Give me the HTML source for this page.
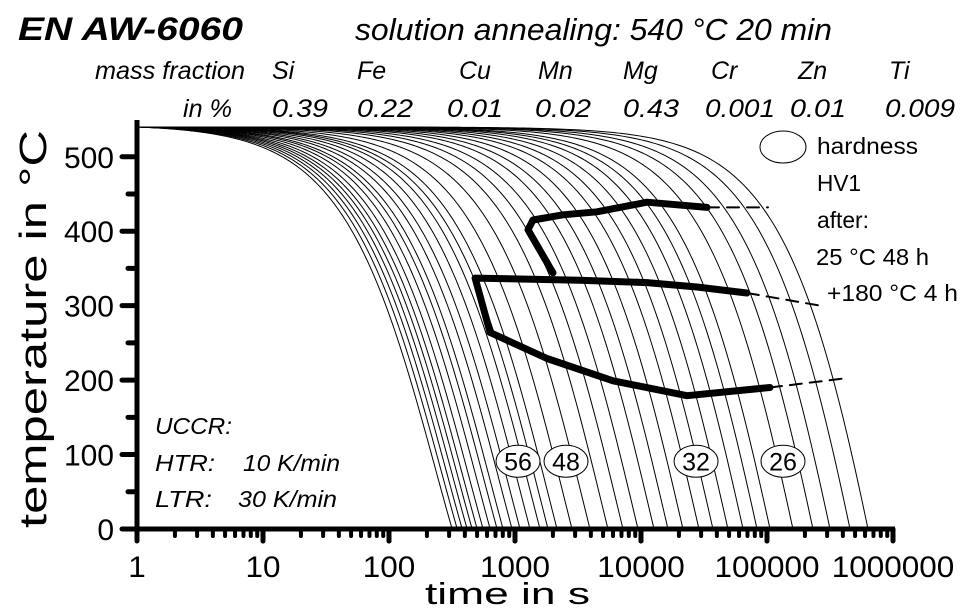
<!DOCTYPE html>
<html><head><meta charset="utf-8">
<style>
html,body{margin:0;padding:0;background:#fff;}
svg{display:block;}
text{font-family:"Liberation Sans",sans-serif;fill:#000;}
.it{font-style:italic;}
</style></head>
<body>
<svg id="chart" width="964" height="611" viewBox="0 0 964 611">
  <g>
    <text x="18" y="40" font-size="32" font-weight="bold" class="it" textLength="225" lengthAdjust="spacingAndGlyphs">EN AW-6060</text>
    <text x="355" y="40" font-size="31" class="it" textLength="477" lengthAdjust="spacingAndGlyphs">solution annealing: 540 °C 20 min</text>
    <text x="95" y="79" font-size="25" class="it" textLength="150" lengthAdjust="spacingAndGlyphs">mass fraction</text>
    <text x="183" y="117" font-size="25" class="it" textLength="49" lengthAdjust="spacingAndGlyphs">in %</text>
  </g>
  <g id="comp"></g>
  <g id="curves"></g>
  <g id="thick"></g>
  <g id="axes"></g>
  <g id="marks"></g>
  <g>
    <ellipse cx="783" cy="147" rx="23" ry="16" fill="#fff" stroke="#000" stroke-width="1"/>
    <text x="817" y="154" font-size="23" textLength="101" lengthAdjust="spacingAndGlyphs">hardness</text>
    <text x="817" y="191" font-size="23" textLength="44" lengthAdjust="spacingAndGlyphs">HV1</text>
    <text x="817" y="228" font-size="23" textLength="52" lengthAdjust="spacingAndGlyphs">after:</text>
    <text x="816" y="265" font-size="23" textLength="113" lengthAdjust="spacingAndGlyphs">25 °C 48 h</text>
    <text x="827" y="301" font-size="23" textLength="131" lengthAdjust="spacingAndGlyphs">+180 °C 4 h</text>
  </g>
  <g>
    <text x="155" y="434" font-size="23" class="it" textLength="77" lengthAdjust="spacingAndGlyphs">UCCR:</text>
    <text x="155" y="471" font-size="23" class="it" textLength="60" lengthAdjust="spacingAndGlyphs">HTR:</text>
    <text x="243" y="471" font-size="23" class="it" textLength="97" lengthAdjust="spacingAndGlyphs">10 K/min</text>
    <text x="155" y="507" font-size="23" class="it" textLength="57" lengthAdjust="spacingAndGlyphs">LTR:</text>
    <text x="238" y="507" font-size="23" class="it" textLength="99" lengthAdjust="spacingAndGlyphs">30 K/min</text>
  </g>
  <text x="425" y="604" font-size="31" textLength="165" lengthAdjust="spacingAndGlyphs">time in s</text>
  <text transform="translate(46 528) rotate(-90)" font-size="38" textLength="398" lengthAdjust="spacingAndGlyphs">temperature in °C</text>
</svg>
<script>
const elements = ["Si","Fe","Cu","Mn","Mg","Cr","Zn","Ti"];
const fractions = ["0.39","0.22","0.01","0.02","0.43","0.001","0.01","0.009"];
// time (s) at which each cooling curve reaches 0 °C
const curveEndTimes = [316,347,380,416,456,500,557,634,720,803,946,1096,1315,1578,1828,2154,2834,3935,5466,7194,9465,12680,16370,21540,28840,37250,48980,64570,83370,105700,160700,231700,316200,456000,633500];
const upperTimes = [2004,1268,1389,2404,4477,11160,33400];
const upperTemps = [344,402,415,422,426,439,432];
const middleTimes = [634,482,3281,11160,27800,69300];
const middleTemps = [264,337,334,331,325,317];
const lowerTimes = [634,1795,5998,23170,105700];
const lowerTemps = [264,229,199,179,190];
const dashTimes = [[33400,101800],[69300,263400],[105700,401000]];
const dashTemps = [[432,432],[317,300],[190,202]];
const hardnessValues = ["56","48","32","26"];
const hardnessTimes = [1057,2541,27350,134000];
const hardnessTemp = 91;
const xTicks = [1,10,100,1000,10000,100000,1000000];
const xTickLabels = ["1","10","100","1000","10000","100000","1000000"];
const yTicks = [0,100,200,300,400,500];
const yTickLabels = ["0","100","200","300","400","500"];

const NS = "http://www.w3.org/2000/svg";
const X0 = 137, DEC = 126, Y0 = 529, YS = 0.7445;
const xs = t => X0 + Math.log10(t) * DEC;
const ys = T => Y0 - T * YS;
function mk(tag, attrs, parent){const e=document.createElementNS(NS,tag);for(const k in attrs)e.setAttribute(k,attrs[k]);parent.appendChild(e);return e;}

const comp = document.getElementById('comp');
const nameX = [272,357,459,538,623,711,798,889];
const valX = [272,357,447,535,623,705,790,885];
elements.forEach((el,i)=>{
  const a = mk('text',{x:nameX[i],y:79,'font-size':25,'class':'it'},comp);
  
  
  a.textContent = el;
  const b = mk('text',{x:valX[i],y:117,'font-size':25,'class':'it',textLength:fractions[i].length*14,lengthAdjust:'spacingAndGlyphs'},comp);
  
  
  b.textContent = fractions[i];
});

const cg = document.getElementById('curves');
const lmin = Math.log10(curveEndTimes[0]), lmax = Math.log10(curveEndTimes[curveEndTimes.length-1]);
curveEndTimes.forEach((te,i)=>{
  const K = 1.35 + (Math.log10(te)-lmin)/(lmax-lmin)*0.45;
  const tau = te/Math.log(K/(K-1));
  let d = '';
  for(let k=0;k<=240;k++){
    const lt = Math.log10(te)*k/240;
    const t = Math.pow(10,lt);
    const f = K*(1-Math.exp(-(t-1)/tau));
    const T = 540*(1-f);
    d += (k?'L':'M')+xs(t).toFixed(2)+','+ys(Math.max(T,0)).toFixed(2);
  }
  const path = mk('path',{d:d,fill:'none',stroke:'#000','stroke-width':1},cg);
  
  
});

const tg = document.getElementById('thick');
function poly(ts,Ts,name,dash){
  const pts = ts.map((t,i)=>xs(t).toFixed(1)+','+ys(Ts[i]).toFixed(1)).join(' ');
  const e = mk('polyline',{points:pts,fill:'none',stroke:'#000','stroke-width':dash?2:7,'stroke-linejoin':'round','stroke-linecap':'round'},tg);
  if(dash) e.setAttribute('stroke-dasharray','12 8');
  
  
}
poly(upperTimes,upperTemps,'upper-boundary',false);
poly(middleTimes,middleTemps,'middle-boundary',false);
poly(lowerTimes,lowerTemps,'lower-boundary',false);
dashTimes.forEach((d,i)=>poly(d,dashTemps[i],'extrapolated-boundary',true));

const mg = document.getElementById('marks');
hardnessValues.forEach((v,i)=>{
  const cx = xs(hardnessTimes[i]), cy = ys(hardnessTemp);
  const e = mk('ellipse',{cx:cx,cy:cy,rx:22,ry:16,fill:'#fff',stroke:'#000','stroke-width':1},mg);
  
  
  const t = mk('text',{x:cx,y:cy+9,'font-size':25,'text-anchor':'middle'},mg);
  
  
  t.textContent = v;
});

const ag = document.getElementById('axes');
const yax = mk('line',{x1:X0,y1:120,x2:X0,y2:Y0+2,stroke:'#000','stroke-width':5},ag);


const xax = mk('line',{x1:X0-2,y1:Y0,x2:xs(1e6)+2,y2:Y0,stroke:'#000','stroke-width':5},ag);


for(let T=0;T<=500;T+=50){
  const major = T%100===0;
  const tk = mk('line',{x1:X0-(major?15:9),y1:ys(T),x2:X0,y2:ys(T),stroke:'#000','stroke-width':5,'stroke-linecap':'round'},ag);
  
  
}
yTicks.forEach((T,i)=>{
  const t = mk('text',{x:114,y:ys(T)+11,'font-size':30,'text-anchor':'end'},ag);
  
  
  t.textContent = yTickLabels[i];
});
for(let d=0;d<6;d++){
  for(let m=1;m<=10;m++){
    if(d===5 && m===10) continue;
    const t = Math.pow(10,d)*m;
    const major = (m===1||m===10);
    const tk = mk('line',{x1:xs(t),y1:Y0,x2:xs(t),y2:Y0+(major?12:7),stroke:'#000','stroke-width':major?5:4,'stroke-linecap':'round'},ag);
    
    
  }
}
const last = mk('line',{x1:xs(1e6),y1:Y0,x2:xs(1e6),y2:Y0+12,stroke:'#000','stroke-width':5,'stroke-linecap':'round'},ag);


xTicks.forEach((v,i)=>{
  const t = mk('text',{x:xs(v),y:577,'font-size':30,'text-anchor':'middle',textLength:xTickLabels[i].length*17.5,lengthAdjust:'spacingAndGlyphs'},ag);
  
  
  t.textContent = xTickLabels[i];
});
</script>
</body></html>
